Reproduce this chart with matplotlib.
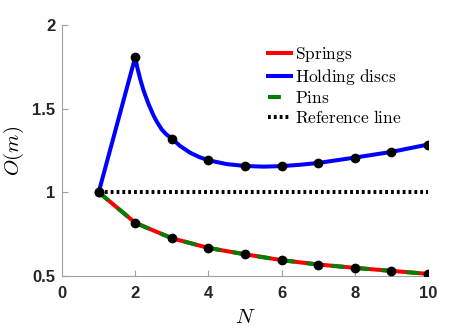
import matplotlib
matplotlib.use("Agg")
import matplotlib.pyplot as plt

plt.rcParams["mathtext.fontset"] = "cm"
plt.rcParams["font.family"] = ["Liberation Sans", "DejaVu Sans"]
plt.rcParams["font.weight"] = "bold"

# values at integer N (markers)
N = [1, 2, 3, 4, 5, 6, 7, 8, 9, 10]
discs = [1.0, 1.809, 1.321, 1.191, 1.157, 1.156, 1.175, 1.207, 1.241, 1.285]
springs = [1.0, 0.817, 0.725, 0.667, 0.629, 0.594, 0.568, 0.548, 0.530, 0.512]
pins = [1.0, 0.817, 0.725, 0.667, 0.629, 0.594, 0.568, 0.548, 0.530, 0.512]

# extra points
N_discs_line = [1, 2, 2.05, 2.13, 2.22, 2.36, 2.5, 2.59, 2.72, 2.85, 3, 3.22, 3.5, 3.75,
                4, 4.5, 5, 5.5, 6, 6.5, 7, 8, 9, 10]
discs_line = [1.0, 1.809, 1.750, 1.680, 1.612, 1.528, 1.458, 1.421, 1.376, 1.345, 1.321,
              1.277, 1.236, 1.210, 1.191, 1.168, 1.157, 1.153, 1.156, 1.164, 1.175,
              1.207, 1.241, 1.285]

ref_N = [1, 10]
ref_val = [1, 1]

fig = plt.figure(figsize=(4.74, 3.32), dpi=100)
ax = fig.add_axes([0.131, 0.169, 0.772, 0.756])

ax.plot(N, springs, color="#ff0000", lw=2.9, label=r"$\mathrm{Springs}$", zorder=2)
ax.plot(N_discs_line, discs_line, color="#0000ff", lw=2.9,
        label=r"$\mathrm{Holding\ discs}$", zorder=2)
ax.plot(N, pins, color="#008000", lw=2.9, ls=(0, (3.2, 3.0)),
        label=r"$\mathrm{Pins}$", zorder=3)
ax.plot(ref_N, ref_val, color="black", lw=2.9, ls=(0, (0.7, 0.75)),
        label=r"$\mathrm{Reference\ line}$", zorder=2)

ax.plot(N, discs, "o", color="black", ms=6, zorder=4)
ax.plot(N, springs, "o", color="black", ms=6, zorder=4)

ax.set_xlim(0, 10)
ax.set_ylim(0.5, 2)
ax.set_xticks([0, 2, 4, 6, 8, 10])
ax.set_yticks([0.5, 1, 1.5, 2])
ax.set_yticklabels(["0.5", "1", "1.5", "2"])

for s in ["top", "right"]:
    ax.spines[s].set_visible(False)
for s in ["left", "bottom"]:
    ax.spines[s].set_color("#a0a0a0")
    ax.spines[s].set_linewidth(0.8)

ax.tick_params(direction="in", length=4, width=0.8, color="#a0a0a0",
               labelsize=12, labelcolor="#262626", pad=5)
ax.tick_params(axis="x", pad=7)

ax.set_xlabel(r"$N$", fontsize=15, labelpad=5)
ax.set_ylabel(r"$O(m)$", fontsize=15)
ax.yaxis.set_label_coords(-0.1, 0.5)

ax.legend(loc="upper left", bbox_to_anchor=(268 / 474, 1 - 45 / 332),
          bbox_transform=fig.transFigure, frameon=False, borderpad=0,
          borderaxespad=0, fontsize=12.5, handlelength=1.35, handletextpad=0.2,
          labelspacing=0.18)

fig.savefig("out.png", dpi=100)
